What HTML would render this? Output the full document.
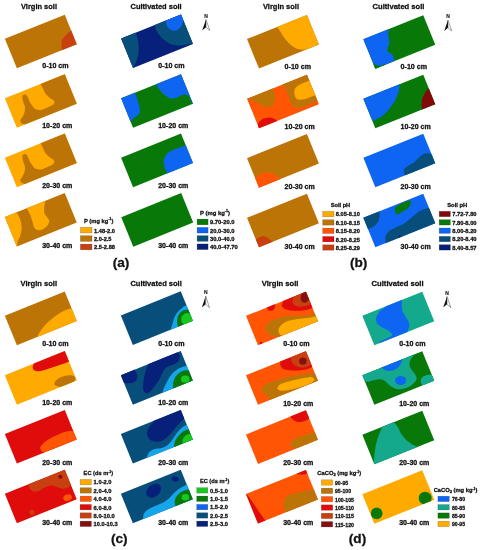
<!DOCTYPE html>
<html lang="en"><head><meta charset="utf-8"><title>Soil maps</title>
<style>html,body{margin:0;padding:0;background:#fff}svg{display:block}</style></head>
<body>
<svg width="481" height="550" viewBox="0 0 481 550" font-family="'Liberation Sans', sans-serif" font-weight="700" fill="#111">
<rect width="481" height="550" fill="#fff"/>
<defs>
<clipPath id="c0"><polygon points="64.76,14.71 76.76,44.21 16.86,68.31 4.86,38.81"/></clipPath>
<clipPath id="c1"><polygon points="64.76,74.22 76.76,103.72 16.86,127.82 4.86,98.32"/></clipPath>
<clipPath id="c2"><polygon points="64.76,133.62 76.76,163.12 16.86,187.22 4.86,157.72"/></clipPath>
<clipPath id="c3"><polygon points="64.76,192.92 76.76,222.42 16.86,246.52 4.86,217.02"/></clipPath>
<clipPath id="c4"><polygon points="180.99,14.44 192.99,43.94 133.09,68.04 121.09,38.54"/></clipPath>
<clipPath id="c5"><polygon points="180.99,74.22 192.99,103.72 133.09,127.82 121.09,98.32"/></clipPath>
<clipPath id="c6"><polygon points="180.99,133.55 192.99,163.05 133.09,187.15 121.09,157.65"/></clipPath>
<clipPath id="c7"><polygon points="181.17,193.11 193.17,222.61 133.27,246.71 121.27,217.21"/></clipPath>
<clipPath id="c8"><polygon points="306.91,14.97 318.91,44.47 259.01,68.57 247.01,39.07"/></clipPath>
<clipPath id="c9"><polygon points="306.91,74.67 318.91,104.17 259.01,128.27 247.01,98.77"/></clipPath>
<clipPath id="c10"><polygon points="306.91,134.03 318.91,163.53 259.01,187.63 247.01,158.13"/></clipPath>
<clipPath id="c11"><polygon points="306.91,193.69 318.91,223.19 259.01,247.29 247.01,217.79"/></clipPath>
<clipPath id="c12"><polygon points="423.25,15.15 435.25,44.65 375.35,68.75 363.35,39.25"/></clipPath>
<clipPath id="c13"><polygon points="423.25,74.67 435.25,104.17 375.35,128.27 363.35,98.77"/></clipPath>
<clipPath id="c14"><polygon points="423.25,133.69 435.25,163.19 375.35,187.29 363.35,157.79"/></clipPath>
<clipPath id="c15"><polygon points="423.25,193.69 435.25,223.19 375.35,247.29 363.35,217.79"/></clipPath>
<clipPath id="c16"><polygon points="64.76,291.56 76.76,321.06 16.86,345.16 4.86,315.66"/></clipPath>
<clipPath id="c17"><polygon points="64.76,351.11 76.76,380.61 16.86,404.71 4.86,375.21"/></clipPath>
<clipPath id="c18"><polygon points="64.76,409.92 76.76,439.42 16.86,463.52 4.86,434.02"/></clipPath>
<clipPath id="c19"><polygon points="64.76,469.69 76.76,499.19 16.86,523.29 4.86,493.79"/></clipPath>
<clipPath id="c20"><polygon points="180.76,291.33 192.76,320.83 132.86,344.93 120.86,315.43"/></clipPath>
<clipPath id="c21"><polygon points="180.76,351.11 192.76,380.61 132.86,404.71 120.86,375.21"/></clipPath>
<clipPath id="c22"><polygon points="180.76,409.92 192.76,439.42 132.86,463.52 120.86,434.02"/></clipPath>
<clipPath id="c23"><polygon points="180.76,469.69 192.76,499.19 132.86,523.29 120.86,493.79"/></clipPath>
<clipPath id="c24"><polygon points="305.91,291.74 317.91,321.24 258.01,345.34 246.01,315.84"/></clipPath>
<clipPath id="c25"><polygon points="305.91,351.22 317.91,380.72 258.01,404.82 246.01,375.32"/></clipPath>
<clipPath id="c26"><polygon points="305.91,410.33 317.91,439.83 258.01,463.93 246.01,434.43"/></clipPath>
<clipPath id="c27"><polygon points="305.91,469.96 317.91,499.46 258.01,523.56 246.01,494.06"/></clipPath>
<clipPath id="c28"><polygon points="422.25,291.74 434.25,321.24 374.35,345.34 362.35,315.84"/></clipPath>
<clipPath id="c29"><polygon points="422.25,351.22 434.25,380.72 374.35,404.82 362.35,375.32"/></clipPath>
<clipPath id="c30"><polygon points="422.25,410.67 434.25,440.17 374.35,464.27 362.35,434.77"/></clipPath>
<clipPath id="c31"><polygon points="422.25,470.22 434.25,499.72 374.35,523.82 362.35,494.32"/></clipPath>
</defs>
<polygon points="64.76,14.71 76.76,44.21 16.86,68.31 4.86,38.81" fill="#BD7406"/>
<g clip-path="url(#c0)">
<path d="M72.66 28.22C72.36 28.59 71.91 29.39 70.86 30.47C69.81 31.54 67.72 33.28 66.37 34.66C65.02 36.03 63.58 37.23 62.78 38.7C61.98 40.17 61.73 41.62 61.58 43.49C61.43 45.36 61.83 48.85 61.88 49.93L79.84 52.92L82.84 27.47Z" fill="#C8400F"/>
</g>
<polygon points="64.76,74.22 76.76,103.72 16.86,127.82 4.86,98.32" fill="#FFAA00"/>
<g clip-path="url(#c1)">
<path d="M40.33 82.23C40.43 82.61 40.45 83.36 40.93 84.48C41.4 85.6 42.42 87.47 43.17 88.97C43.92 90.47 44.29 91.96 45.42 93.46C46.54 94.96 48.46 96.7 49.91 97.95C51.35 99.2 53.6 99.82 54.1 100.94C54.6 102.07 54.1 103.56 52.9 104.69C51.7 105.81 48.91 106.81 46.91 107.68C44.92 108.55 42.8 109.68 40.93 109.93C39.05 110.17 37.06 109.8 35.69 109.18C34.31 108.55 33.69 107.43 32.69 106.18C31.69 104.94 30.57 103.31 29.7 101.69C28.83 100.07 28.28 97.7 27.45 96.45C26.63 95.21 25.61 94.21 24.76 94.21C23.91 94.21 22.64 95.21 22.36 96.45C22.09 97.7 22.69 99.95 23.11 101.69C23.54 103.44 24.66 105.26 24.91 106.93C25.16 108.6 24.96 110.15 24.61 111.72C24.26 113.29 23.46 115.09 22.81 116.36C22.16 117.63 21.14 118.53 20.72 119.36C20.29 120.18 20.14 120.65 20.27 121.3C20.39 121.95 20.84 122.77 21.47 123.25C22.09 123.72 23.01 123.87 24.01 124.15C25.01 124.42 26.88 124.77 27.45 124.89L79.84 130.88L82.84 71.01L40.33 71.01Z" fill="#BD7406"/>
</g>
<polygon points="64.76,133.62 76.76,163.12 16.86,187.22 4.86,157.72" fill="#FFAA00"/>
<g clip-path="url(#c2)">
<path d="M40.33 141.78C40.43 142.16 40.45 142.91 40.93 144.03C41.4 145.15 42.42 147.02 43.17 148.52C43.92 150.02 44.29 151.51 45.42 153.01C46.54 154.51 48.46 156.25 49.91 157.5C51.35 158.75 53.6 159.37 54.1 160.49C54.6 161.62 54.1 163.11 52.9 164.24C51.7 165.36 48.91 166.36 46.91 167.23C44.92 168.1 42.8 169.23 40.93 169.48C39.05 169.73 37.06 169.35 35.69 168.73C34.31 168.1 33.69 166.98 32.69 165.73C31.69 164.49 30.57 162.86 29.7 161.24C28.83 159.62 28.28 157.25 27.45 156C26.63 154.76 25.61 153.76 24.76 153.76C23.91 153.76 22.64 154.76 22.36 156C22.09 157.25 22.69 159.5 23.11 161.24C23.54 162.99 24.66 164.81 24.91 166.48C25.16 168.15 24.96 169.7 24.61 171.27C24.26 172.84 23.46 174.64 22.81 175.91C22.16 177.19 21.14 178.08 20.72 178.91C20.29 179.73 20.14 180.2 20.27 180.85C20.39 181.5 20.84 182.32 21.47 182.8C22.09 183.27 23.01 183.42 24.01 183.7C25.01 183.97 26.88 184.32 27.45 184.44L79.84 190.88L82.84 131.01L40.33 131.01Z" fill="#BD7406"/>
</g>
<polygon points="64.76,192.92 76.76,222.42 16.86,246.52 4.86,217.02" fill="#BD7406"/>
<g clip-path="url(#c3)">
<path d="M15.48 209.47C15.68 209.96 16.05 211.21 16.68 212.46C17.3 213.71 18.47 215.2 19.22 216.95C19.97 218.7 20.79 220.82 21.17 222.94C21.54 225.06 21.67 227.43 21.47 229.67C21.27 231.92 20.59 234.49 19.97 236.41C19.35 238.33 18.22 239.45 17.72 241.2C17.22 242.95 17.1 245.94 16.98 246.89L0.51 246.89L0.51 209.47Z" fill="#FFAA00"/>
<path d="M25.96 205.72C26.21 206.35 26.7 207.84 27.45 209.47C28.2 211.09 29.57 213.33 30.45 215.45C31.32 217.57 32.07 220.19 32.69 222.19C33.32 224.19 33.32 226.11 34.19 227.43C35.06 228.75 36.43 229.87 37.93 230.12C39.43 230.37 41.55 229.75 43.17 228.93C44.79 228.1 46.66 226.56 47.66 225.18C48.66 223.81 49.28 222.06 49.16 220.69C49.03 219.32 47.71 218.2 46.91 216.95C46.11 215.7 44.82 214.7 44.37 213.21C43.92 211.71 44.09 209.84 44.22 207.97C44.34 206.1 44.87 203.73 45.12 201.98C45.37 200.23 45.62 198.24 45.72 197.49L25.96 197.49Z" fill="#FFAA00"/>
</g>
<polygon points="180.99,14.44 192.99,43.94 133.09,68.04 121.09,38.54" fill="#07207A"/>
<g clip-path="url(#c4)">
<path d="M135.07 30.47C135.22 30.91 135.52 31.66 135.97 33.16C136.42 34.66 137.32 37.15 137.77 39.45C138.21 41.74 138.59 44.44 138.66 46.93C138.74 49.43 138.54 52.17 138.21 54.42C137.89 56.66 137.29 58.66 136.72 60.4C136.14 62.15 135.27 63.4 134.77 64.89C134.27 66.39 133.9 68.64 133.72 69.38L116.51 69.38L116.51 30.47Z" fill="#084E7A"/>
<path d="M154.83 22.98C154.88 23.43 154.93 24.55 155.13 25.68C155.33 26.8 155.35 28.17 156.03 29.72C156.7 31.26 157.77 33.21 159.17 34.96C160.57 36.7 162.54 38.7 164.41 40.2C166.28 41.69 168.15 43.06 170.4 43.94C172.64 44.81 175.39 45.31 177.88 45.43C180.38 45.56 183 45.01 185.37 44.69C187.74 44.36 190.11 43.86 192.1 43.49C194.1 43.11 196.47 42.62 197.34 42.44L197.34 11.01L154.83 11.01Z" fill="#084E7A"/>
<path d="M165.91 19.99C166.03 21.86 166.03 23.73 166.65 25.23C167.28 26.72 168.4 28.05 169.65 28.97C170.9 29.89 172.64 30.77 174.14 30.77C175.64 30.77 177.38 29.89 178.63 28.97C179.88 28.05 180.88 26.6 181.62 25.23C182.37 23.85 182.75 22.61 183.12 20.74C183.49 18.86 185.49 15.62 183.87 14C182.25 12.38 176.38 11.01 173.39 11.01C170.4 11.01 167.15 12.5 165.91 14C164.66 15.5 165.78 18.12 165.91 19.99Z" fill="#0E65F2"/>
</g>
<polygon points="180.99,74.22 192.99,103.72 133.09,127.82 121.09,98.32" fill="#087808"/>
<g clip-path="url(#c5)">
<path d="M134.17 90.47C134.35 90.91 134.72 91.79 135.22 93.16C135.72 94.53 136.54 96.78 137.17 98.7C137.79 100.62 138.49 102.69 138.96 104.69C139.44 106.68 140.06 109.05 140.01 110.67C139.96 112.3 139.46 113.37 138.66 114.42C137.86 115.46 136.29 116.09 135.22 116.96C134.15 117.83 133.22 118.58 132.23 119.65C131.23 120.73 129.73 122.77 129.23 123.4L116.51 123.4L116.51 90.47Z" fill="#0E65F2"/>
<path d="M154.68 82.23C154.93 82.66 155.43 83.65 156.18 84.78C156.93 85.9 157.92 87.4 159.17 88.97C160.42 90.54 162.04 92.76 163.66 94.21C165.28 95.65 167.28 96.93 168.9 97.65C170.52 98.37 171.77 98.7 173.39 98.55C175.01 98.4 177.13 97.35 178.63 96.75C180.13 96.15 181.25 95.33 182.37 94.96C183.49 94.58 184.42 94.38 185.37 94.51C186.31 94.63 187.31 95.13 188.06 95.7C188.81 96.28 189.36 97.08 189.86 97.95C190.36 98.82 190.63 100.02 191.05 100.94C191.48 101.87 191.9 102.62 192.4 103.49C192.9 104.36 193.77 105.73 194.05 106.18L198.84 106.18L198.84 88.97L183.87 69.51L154.68 69.51Z" fill="#0E65F2"/>
</g>
<polygon points="180.99,133.55 192.99,163.05 133.09,187.15 121.09,157.65" fill="#087808"/>
<g clip-path="url(#c6)">
<path d="M188.36 144.18C187.86 144.35 186.61 144.73 185.37 145.23C184.12 145.73 182.87 146.42 180.88 147.17C178.88 147.92 175.64 148.67 173.39 149.72C171.15 150.77 168.95 151.96 167.4 153.46C165.86 154.96 164.73 157.08 164.11 158.7C163.49 160.32 163.49 161.57 163.66 163.19C163.84 164.81 164.66 166.86 165.16 168.43C165.66 170 166.23 171.25 166.65 172.62C167.08 173.99 167.53 175.99 167.7 176.66L198.84 176.66L198.84 142.98Z" fill="#0E65F2"/>
</g>
<polygon points="181.17,193.11 193.17,222.61 133.27,246.71 121.27,217.21" fill="#087808"/>
<polygon points="306.91,14.97 318.91,44.47 259.01,68.57 247.01,39.07" fill="#BD7406"/>
<g clip-path="url(#c8)">
<path d="M276.19 25.23C276.44 25.65 276.94 26.65 277.69 27.77C278.43 28.89 279.56 30.27 280.68 31.96C281.8 33.66 282.93 35.95 284.42 37.95C285.92 39.95 287.79 42.24 289.66 43.94C291.53 45.63 293.53 47.18 295.65 48.13C297.77 49.08 300.01 49.58 302.38 49.63C304.75 49.68 307.5 49.18 309.87 48.43C312.24 47.68 314.61 46.26 316.6 45.14C318.6 44.01 320.97 42.27 321.84 41.69L324.84 11.01L276.19 11.01Z" fill="#FFAA00"/>
</g>
<polygon points="306.91,74.67 318.91,104.17 259.01,128.27 247.01,98.77" fill="#FF5505"/>
<g clip-path="url(#c9)">
<path d="M272.75 85.98C272.85 86.47 273.02 87.6 273.35 88.97C273.67 90.34 274.39 92.46 274.69 94.21C274.99 95.95 275.32 97.83 275.14 99.45C274.97 101.07 274.59 102.74 273.64 103.94C272.7 105.14 271.02 106.18 269.45 106.63C267.88 107.08 265.96 107.08 264.21 106.63C262.47 106.18 260.6 104.84 258.98 103.94C257.35 103.04 255.86 101.94 254.48 101.24C253.11 100.54 252.24 100.17 250.74 99.75C249.25 99.32 246.38 98.87 245.5 98.7L245.5 82.98Z" fill="#BD7406"/>
<path d="M281.73 82.23C281.93 82.73 282.35 84.1 282.93 85.23C283.5 86.35 284.42 87.6 285.17 88.97C285.92 90.34 286.67 91.71 287.42 93.46C288.16 95.21 288.91 97.58 289.66 99.45C290.41 101.32 290.78 103.31 291.91 104.69C293.03 106.06 294.65 107.26 296.4 107.68C298.14 108.1 300.39 107.7 302.38 107.23C304.38 106.76 306.5 105.61 308.37 104.84C310.24 104.06 311.62 103.24 313.61 102.59C315.61 101.94 319.22 101.22 320.35 100.94L324.84 71.01L281.73 71.01Z" fill="#BD7406"/>
<path d="M294.3 91.96C294.23 90.39 294.6 89.27 295.2 88.22C295.8 87.17 296.7 86.5 297.89 85.68C299.09 84.85 300.76 84.03 302.38 83.28C304.01 82.53 305.88 81.73 307.62 81.19C309.37 80.64 310.99 79.69 312.86 79.99C314.73 80.29 317.6 80.99 318.85 82.98C320.1 84.98 320.97 89.92 320.35 91.96C319.72 94.01 316.73 94.43 315.11 95.26C313.49 96.08 312.24 96.28 310.62 96.9C309 97.53 307.25 98.52 305.38 99C303.51 99.47 301.01 99.97 299.39 99.75C297.77 99.52 296.5 98.95 295.65 97.65C294.8 96.35 294.38 93.53 294.3 91.96Z" fill="#FFAA00"/>
<path d="M255.98 127.89C256.28 127.34 257.15 125.72 257.78 124.59C258.4 123.47 258.78 122.15 259.72 121.15C260.67 120.15 261.97 119.23 263.47 118.61C264.96 117.98 267.08 117.48 268.7 117.41C270.33 117.33 271.95 117.71 273.2 118.16C274.44 118.61 275.44 119.23 276.19 120.1C276.94 120.98 277.44 122.85 277.69 123.4L277.69 133.88L252.99 133.88Z" fill="#E00B0B"/>
</g>
<polygon points="306.91,134.03 318.91,163.53 259.01,187.63 247.01,158.13" fill="#BD7406"/>
<g clip-path="url(#c10)">
<path d="M253.74 180.4C254.04 179.98 254.78 178.73 255.53 177.86C256.28 176.99 257.03 175.99 258.23 175.16C259.42 174.34 261.1 173.42 262.72 172.92C264.34 172.42 266.21 172.05 267.96 172.17C269.7 172.3 271.7 172.99 273.2 173.67C274.69 174.34 275.86 175.34 276.94 176.21C278.01 177.09 278.88 177.96 279.63 178.91C280.38 179.85 281.13 181.4 281.43 181.9L281.43 193.88L251.49 193.88Z" fill="#FF5505"/>
</g>
<polygon points="306.91,193.69 318.91,223.19 259.01,247.29 247.01,217.79" fill="#BD7406"/>
<g clip-path="url(#c11)">
<path d="M253.74 240.4C254.16 240.15 255.16 239.51 256.28 238.91C257.4 238.31 259.2 237.28 260.47 236.81C261.74 236.34 262.79 235.91 263.91 236.06C265.04 236.21 266.16 237.11 267.21 237.71C268.26 238.31 269.28 239.01 270.2 239.65C271.12 240.3 271.87 240.85 272.75 241.6C273.62 242.35 274.99 243.72 275.44 244.15L275.44 253.88L251.49 253.88Z" fill="#C8400F"/>
</g>
<polygon points="423.25,15.15 435.25,44.65 375.35,68.75 363.35,39.25" fill="#087808"/>
<g clip-path="url(#c12)">
<path d="M389.05 26.72C389 27.17 388.9 28.3 388.75 29.42C388.6 30.54 388.15 32.04 388.15 33.46C388.15 34.88 388.55 36.45 388.75 37.95C388.95 39.45 389.4 41.07 389.35 42.44C389.3 43.81 388.82 44.94 388.45 46.18C388.07 47.43 386.98 48.85 387.1 49.93C387.22 51 388.35 51.87 389.2 52.62C390.04 53.37 391.44 53.62 392.19 54.42C392.94 55.21 393.31 56.36 393.69 57.41C394.06 58.46 394.26 59.46 394.43 60.7C394.61 61.95 394.68 64.2 394.73 64.89L394.73 73.88L358.51 73.88L358.51 26.72Z" fill="#0E65F2"/>
<path d="M370.48 61.6C370.98 61.98 372.36 63.25 373.48 63.85C374.6 64.44 376.1 64.89 377.22 65.19C378.34 65.49 379.34 65.67 380.21 65.64C381.09 65.62 381.64 65.42 382.46 65.04C383.28 64.67 384.7 63.67 385.15 63.4L385.15 73.88L370.48 73.88Z" fill="#087808"/>
</g>
<polygon points="423.25,74.67 435.25,104.17 375.35,128.27 363.35,98.77" fill="#087808"/>
<g clip-path="url(#c13)">
<path d="M399.82 81.48C399.8 82.03 399.82 83.28 399.67 84.78C399.52 86.27 399.42 88.4 398.93 90.47C398.43 92.54 397.68 94.96 396.68 97.2C395.68 99.45 394.31 101.82 392.94 103.94C391.57 106.06 390.07 108.05 388.45 109.93C386.83 111.8 384.95 113.72 383.21 115.16C381.46 116.61 379.59 117.73 377.97 118.61C376.35 119.48 374.98 119.98 373.48 120.4C371.98 120.83 369.74 121.03 368.99 121.15L358.51 121.15L358.51 81.48Z" fill="#0E65F2"/>
<path d="M431.11 85.23C430.68 85.73 429.56 86.97 428.56 88.22C427.57 89.47 426.12 91.09 425.12 92.71C424.12 94.33 423.15 96.2 422.58 97.95C422 99.7 421.8 101.39 421.68 103.19C421.55 104.99 421.73 107.11 421.83 108.73C421.93 110.35 422.2 112.22 422.28 112.92L440.84 112.92L440.84 85.23Z" fill="#820A0A"/>
</g>
<polygon points="423.25,133.69 435.25,163.19 375.35,187.29 363.35,157.79" fill="#0E65F2"/>
<g clip-path="url(#c14)">
<path d="M434.85 155.7C434.23 155.43 432.36 154.48 431.11 154.06C429.86 153.63 428.74 153.14 427.37 153.16C425.99 153.19 424.37 153.41 422.88 154.21C421.38 155.01 419.88 156.58 418.38 157.95C416.89 159.32 415.52 161.19 413.89 162.44C412.27 163.69 410.15 164.49 408.65 165.43C407.16 166.38 405.74 167.13 404.91 168.13C404.09 169.13 403.77 170.32 403.72 171.42C403.67 172.52 404.29 173.59 404.61 174.72C404.94 175.84 405.49 177.58 405.66 178.16L440.84 178.16L440.84 155.7Z" fill="#084E7A"/>
</g>
<polygon points="423.25,193.69 435.25,223.19 375.35,247.29 363.35,217.79" fill="#0E65F2"/>
<g clip-path="url(#c15)">
<path d="M379.17 208.22C379.22 208.79 379.37 210.29 379.47 211.66C379.57 213.04 380.01 214.78 379.77 216.45C379.52 218.12 378.77 220.2 377.97 221.69C377.17 223.19 376.1 224.44 374.98 225.43C373.85 226.43 372.36 227.11 371.23 227.68C370.11 228.25 369.36 228.5 368.24 228.88C367.12 229.25 365.12 229.75 364.5 229.93L358.51 229.93L358.51 208.22Z" fill="#084E7A"/>
<path d="M395.33 207.77C395.83 206.77 396.95 206.02 398.18 205.23C399.4 204.43 401.17 203.68 402.67 202.98C404.16 202.28 405.94 201.43 407.16 201.04C408.38 200.64 409.38 200.31 410 200.59C410.63 200.86 410.95 201.78 410.9 202.68C410.85 203.58 410.45 204.88 409.7 205.98C408.95 207.07 407.71 208.27 406.41 209.27C405.11 210.27 403.27 211.19 401.92 211.96C400.57 212.74 399.27 213.58 398.33 213.91C397.38 214.23 396.75 214.36 396.23 213.91C395.71 213.46 395.33 212.24 395.18 211.21C395.03 210.19 394.83 208.77 395.33 207.77Z" fill="#087808"/>
<path d="M433.35 207.77C432.6 207.85 430.36 208.02 428.86 208.22C427.37 208.42 426.12 208.35 424.37 208.97C422.63 209.59 420.63 210.47 418.38 211.96C416.14 213.46 413.4 215.95 410.9 217.95C408.41 219.95 406.04 222.32 403.42 223.94C400.8 225.56 397.68 226.43 395.18 227.68C392.69 228.93 390.07 229.93 388.45 231.42C386.83 232.92 385.95 234.91 385.45 236.66C384.95 238.41 385.33 240.4 385.45 241.9C385.58 243.4 386.08 245.02 386.2 245.64L440.84 245.64L440.84 207.77Z" fill="#084E7A"/>
<path d="M399.67 235.01C400.12 234.96 401.25 236.71 401.02 237.11C400.8 237.51 398.55 237.76 398.33 237.41C398.1 237.06 399.22 235.06 399.67 235.01Z" fill="#07207A"/>
</g>
<polygon points="64.76,291.56 76.76,321.06 16.86,345.16 4.86,315.66" fill="#BD7406"/>
<g clip-path="url(#c16)">
<path d="M76.85 307.17C75.98 307.34 73.36 307.79 71.61 308.21C69.86 308.64 68.37 308.89 66.37 309.71C64.38 310.53 61.88 311.78 59.64 313.15C57.39 314.53 55.02 316.27 52.9 317.94C50.78 319.62 48.78 321.31 46.91 323.18C45.04 325.05 43.12 327.25 41.67 329.17C40.23 331.09 39.1 333.09 38.23 334.71C37.36 336.33 36.73 338.2 36.43 338.9L82.84 338.9L82.84 307.17Z" fill="#FFAA00"/>
</g>
<polygon points="64.76,351.11 76.76,380.61 16.86,404.71 4.86,375.21" fill="#FFAA00"/>
<g clip-path="url(#c17)">
<path d="M34.34 361.48C34.19 361.98 33.72 363.47 33.44 364.47C33.17 365.47 32.57 366.52 32.69 367.47C32.82 368.41 33.19 369.54 34.19 370.16C35.19 370.78 36.81 371.28 38.68 371.21C40.55 371.13 43.05 370.38 45.42 369.71C47.79 369.04 50.41 367.99 52.9 367.17C55.4 366.34 58.14 365.52 60.38 364.77C62.63 364.02 64.38 363.42 66.37 362.68C68.37 361.93 71.36 360.68 72.36 360.28L72.36 346.51L34.34 346.51Z" fill="#E00B0B"/>
<ellipse cx="64.88" cy="380.94" rx="11.08" ry="4.94" fill="#BD7406" transform="rotate(-17 64.88 380.94)"/>
</g>
<polygon points="64.76,409.92 76.76,439.42 16.86,463.52 4.86,434.02" fill="#E00B0B"/>
<g clip-path="url(#c18)">
<path d="M78.35 430.96C77.47 430.96 74.85 430.91 73.11 430.96C71.36 431.01 69.86 430.88 67.87 431.26C65.87 431.63 63.38 432.38 61.13 433.2C58.89 434.02 56.64 435.07 54.4 436.2C52.15 437.32 49.66 438.62 47.66 439.94C45.67 441.26 43.67 442.76 42.42 444.13C41.17 445.5 40.28 447 40.18 448.17C40.08 449.34 41.07 450.44 41.82 451.16C42.57 451.89 43.57 452.14 44.67 452.51C45.77 452.89 47.79 453.26 48.41 453.41L82.84 457.9L82.84 430.96Z" fill="#FF5505"/>
</g>
<polygon points="64.76,469.69 76.76,499.19 16.86,523.29 4.86,493.79" fill="#E00B0B"/>
<g clip-path="url(#c19)">
<path d="M28.65 481.98C28.7 482.47 28.78 483.85 28.95 484.97C29.12 486.09 28.95 487.64 29.7 488.71C30.45 489.78 31.94 491.03 33.44 491.41C34.94 491.78 37.06 491.48 38.68 490.96C40.3 490.43 41.67 489.06 43.17 488.26C44.67 487.46 46.04 486.59 47.66 486.17C49.28 485.74 51.03 485.47 52.9 485.72C54.77 485.97 57.02 487.16 58.89 487.66C60.76 488.16 62.51 488.79 64.13 488.71C65.75 488.64 67.49 487.84 68.62 487.21C69.74 486.59 70.11 485.72 70.86 484.97C71.61 484.22 72.73 483.1 73.11 482.72L73.11 465.51L28.65 465.51Z" fill="#C8400F"/>
<ellipse cx="60.38" cy="476.74" rx="2.1" ry="2.1" fill="#85100F" transform="rotate(0 60.38 476.74)"/>
<ellipse cx="67.57" cy="497.69" rx="4.34" ry="3.29" fill="#FF5505" transform="rotate(-15 67.57 497.69)"/>
<ellipse cx="31.94" cy="512.36" rx="2.54" ry="2.54" fill="#C8400F" transform="rotate(0 31.94 512.36)"/>
</g>
<polygon points="180.76,291.33 192.76,320.83 132.86,344.93 120.86,315.43" fill="#084E7A"/>
<g clip-path="url(#c20)">
<path d="M189.86 302.98C189.23 303.35 187.49 304.35 186.11 305.22C184.74 306.09 183.12 306.97 181.62 308.21C180.13 309.46 178.38 311.08 177.13 312.7C175.89 314.33 174.89 316.2 174.14 317.94C173.39 319.69 173.14 321.56 172.64 323.18C172.14 324.8 171.64 326.18 171.15 327.67C170.65 329.17 169.9 331.42 169.65 332.16L198.84 332.16L198.84 302.98Z" fill="#14A5EB"/>
<path d="M192.1 309.71C191.43 309.71 189.43 309.64 188.06 309.71C186.69 309.79 185.19 309.66 183.87 310.16C182.55 310.66 181.17 311.53 180.13 312.7C179.08 313.88 178.08 315.57 177.58 317.2C177.08 318.82 177.08 320.86 177.13 322.43C177.18 324.01 177.56 325.25 177.88 326.63C178.21 328 178.88 329.99 179.08 330.67L198.84 330.67L198.84 309.71Z" fill="#087808"/>
<path d="M193.6 314.2C192.98 314.08 191.1 313.63 189.86 313.45C188.61 313.28 187.31 312.85 186.11 313.15C184.92 313.45 183.49 314.25 182.67 315.25C181.85 316.25 181.22 317.87 181.17 319.14C181.12 320.41 181.72 322.04 182.37 322.88C183.02 323.73 184.07 323.93 185.07 324.23C186.06 324.53 187.81 324.6 188.36 324.68L198.84 324.68L198.84 314.2Z" fill="#19C81E"/>
</g>
<polygon points="180.76,351.11 192.76,380.61 132.86,404.71 120.86,375.21" fill="#084E7A"/>
<g clip-path="url(#c21)">
<path d="M134.17 367.47C134.35 367.96 134.72 369.21 135.22 370.46C135.72 371.71 136.92 373.45 137.17 374.95C137.42 376.45 137.29 378.24 136.72 379.44C136.14 380.64 134.97 381.51 133.72 382.14C132.48 382.76 130.6 383.01 129.23 383.18C127.86 383.36 127.11 383.26 125.49 383.18C123.87 383.11 120.5 382.81 119.5 382.73L116.51 367.47Z" fill="#07207A"/>
<path d="M147.94 365.22C147.07 367.47 146.32 368.46 145.7 370.46C145.07 372.46 144.63 374.95 144.2 377.2C143.78 379.44 143.28 381.76 143.15 383.93C143.03 386.1 142.95 388.67 143.45 390.22C143.95 391.77 145.02 393.01 146.15 393.21C147.27 393.41 148.89 392.46 150.19 391.42C151.49 390.37 152.56 388.67 153.93 386.93C155.3 385.18 157.17 382.93 158.42 380.94C159.67 378.94 160.42 376.9 161.42 374.95C162.41 373 163.16 370.73 164.41 369.26C165.66 367.79 167.28 366.97 168.9 366.12C170.52 365.27 172.59 364.95 174.14 364.17C175.69 363.4 177.26 362.55 178.18 361.48C179.1 360.41 179.6 359.11 179.68 357.74C179.75 356.36 180.18 354.62 178.63 353.25C177.08 351.87 175.01 348.88 170.4 349.5C165.78 350.13 154.68 354.37 150.94 356.99C147.2 359.61 148.82 362.98 147.94 365.22Z" fill="#07207A"/>
<path d="M191.35 364.47C190.56 364.67 188.31 365.17 186.56 365.67C184.82 366.17 182.7 366.67 180.88 367.47C179.05 368.26 177.26 369.21 175.64 370.46C174.01 371.71 172.47 373.33 171.15 374.95C169.82 376.57 168.7 378.44 167.7 380.19C166.7 381.94 165.91 383.81 165.16 385.43C164.41 387.05 163.71 388.42 163.21 389.92C162.71 391.42 162.34 393.66 162.16 394.41L198.84 394.41L198.84 364.47Z" fill="#14A5EB"/>
<path d="M192.85 370.46C192.1 370.41 189.86 370.16 188.36 370.16C186.86 370.16 185.37 370.04 183.87 370.46C182.37 370.88 180.75 371.71 179.38 372.7C178.01 373.7 176.63 374.95 175.64 376.45C174.64 377.94 173.81 379.94 173.39 381.69C172.97 383.43 173.04 385.43 173.09 386.93C173.14 388.42 173.59 390.04 173.69 390.67L198.84 390.67L198.84 370.46Z" fill="#087808"/>
<ellipse cx="185.22" cy="379.14" rx="4.34" ry="3.59" fill="#19C81E" transform="rotate(0 185.22 379.14)"/>
</g>
<polygon points="180.76,409.92 192.76,439.42 132.86,463.52 120.86,434.02" fill="#084E7A"/>
<g clip-path="url(#c22)">
<path d="M154.68 418.98C154.43 419.48 154.06 420.73 153.18 421.98C152.31 423.22 150.44 424.84 149.44 426.47C148.44 428.09 147.44 429.96 147.2 431.7C146.95 433.45 147.2 435.45 147.94 436.94C148.69 438.44 150.06 439.89 151.69 440.69C153.31 441.48 155.68 441.86 157.67 441.73C159.67 441.61 161.79 440.99 163.66 439.94C165.53 438.89 167.28 437.07 168.9 435.45C170.52 433.83 171.89 431.95 173.39 430.21C174.89 428.46 176.38 426.59 177.88 424.97C179.38 423.35 181 421.98 182.37 420.48C183.74 418.98 185.49 416.74 186.11 415.99L186.11 405.51L154.68 405.51Z" fill="#07207A"/>
<path d="M190.6 423.47C189.93 423.72 187.94 424.35 186.56 424.97C185.19 425.59 183.82 426.09 182.37 427.21C180.93 428.34 179.25 430.08 177.88 431.7C176.51 433.33 175.39 435.2 174.14 436.94C172.89 438.69 171.77 440.64 170.4 442.18C169.02 443.73 167.53 445.23 165.91 446.22C164.28 447.22 162.54 447.72 160.67 448.17C158.8 448.62 156.43 448.42 154.68 448.92C152.93 449.42 151.36 450.17 150.19 451.16C149.02 452.16 148.22 453.83 147.64 454.91C147.07 455.98 146.95 456.48 146.75 457.6C146.55 458.72 146.5 460.97 146.45 461.64L198.84 461.64L198.84 423.47Z" fill="#14A5EB"/>
<path d="M192.85 428.26C192.1 428.41 189.86 428.71 188.36 429.16C186.86 429.61 185.37 430.03 183.87 430.96C182.37 431.88 180.75 433.2 179.38 434.7C178.01 436.2 176.51 438.19 175.64 439.94C174.76 441.68 174.26 443.68 174.14 445.18C174.01 446.67 174.76 448.3 174.89 448.92L198.84 448.92L198.84 428.26Z" fill="#087808"/>
<path d="M194.35 433.65C193.65 433.7 191.4 433.78 190.16 433.95C188.91 434.12 187.96 434.07 186.86 434.7C185.77 435.32 184.32 436.57 183.57 437.69C182.82 438.81 182.45 440.19 182.37 441.43C182.3 442.68 183 444.55 183.12 445.18L198.84 445.18L198.84 433.65Z" fill="#19C81E"/>
</g>
<polygon points="180.76,469.69 192.76,499.19 132.86,523.29 120.86,493.79" fill="#084E7A"/>
<g clip-path="url(#c23)">
<ellipse cx="153.63" cy="490.66" rx="8.23" ry="5.99" fill="#07207A" transform="rotate(-40 153.63 490.66)"/>
<ellipse cx="175.19" cy="478.98" rx="3.74" ry="2.54" fill="#07207A" transform="rotate(10 175.19 478.98)"/>
<path d="M191.35 482.72C190.56 483.05 188.19 483.92 186.56 484.67C184.94 485.42 183.2 486.29 181.62 487.21C180.05 488.14 178.56 489.09 177.13 490.21C175.71 491.33 174.46 492.58 173.09 493.95C171.72 495.32 170.47 497.07 168.9 498.44C167.33 499.81 165.66 501.06 163.66 502.18C161.67 503.31 159.17 504.18 156.93 505.18C154.68 506.17 152.06 507.17 150.19 508.17C148.32 509.17 146.82 510.04 145.7 511.16C144.58 512.29 143.88 513.66 143.45 514.91C143.03 516.15 143.15 517.4 143.15 518.65C143.15 519.9 143.4 521.77 143.45 522.39L198.84 522.39L198.84 482.72Z" fill="#14A5EB"/>
<path d="M192.85 489.16C192.1 489.21 189.86 489.21 188.36 489.46C186.86 489.71 185.37 490.03 183.87 490.66C182.37 491.28 180.68 492.15 179.38 493.2C178.08 494.25 176.88 495.57 176.09 496.94C175.29 498.32 174.74 500.06 174.59 501.43C174.44 502.81 174.89 503.93 175.19 505.18C175.49 506.42 176.19 508.3 176.38 508.92L198.84 508.92L198.84 489.16Z" fill="#087808"/>
<ellipse cx="185.37" cy="497.24" rx="3.74" ry="3.29" fill="#19C81E" transform="rotate(0 185.37 497.24)"/>
</g>
<polygon points="305.91,291.74 317.91,321.24 258.01,345.34 246.01,315.84" fill="#FF5505"/>
<g clip-path="url(#c24)">
<path d="M283.42 299.23C283.3 299.73 282.92 301.1 282.67 302.23C282.42 303.35 281.55 304.85 281.93 305.97C282.3 307.09 283.42 308.21 284.92 308.96C286.42 309.71 288.79 310.16 290.91 310.46C293.03 310.76 295.4 310.81 297.64 310.76C299.89 310.71 302.26 310.51 304.38 310.16C306.5 309.81 308.37 309.36 310.37 308.66C312.36 307.96 315.36 306.42 316.35 305.97L316.35 286.51L283.42 286.51Z" fill="#E00B0B"/>
<path d="M294.65 294.74C294.47 295.24 293.98 296.61 293.6 297.74C293.23 298.86 292.23 300.23 292.4 301.48C292.58 302.73 293.53 304.35 294.65 305.22C295.77 306.09 297.52 306.54 299.14 306.72C300.76 306.89 302.76 306.59 304.38 306.27C306 305.94 307.12 305.52 308.87 304.77C310.62 304.02 313.86 302.28 314.86 301.78L314.86 286.51L294.65 286.51Z" fill="#C8400F"/>
<path d="M300.64 298.48C300.64 300.03 301.38 301.08 302.13 301.78C302.88 302.48 304.13 302.85 305.13 302.68C306.12 302.5 307.25 301.68 308.12 300.73C308.99 299.78 310.49 298.61 310.37 296.99C310.24 295.37 308.74 291.75 307.37 291C306 290.25 303.26 291.25 302.13 292.5C301.01 293.74 300.64 296.94 300.64 298.48Z" fill="#85100F"/>
<path d="M266.21 305.22C266.33 305.64 266.58 306.94 266.96 307.77C267.33 308.59 267.7 309.66 268.45 310.16C269.2 310.66 270.5 310.96 271.45 310.76C272.4 310.56 273.52 309.89 274.14 308.96C274.77 308.04 274.99 306.34 275.19 305.22C275.39 304.1 275.31 302.73 275.34 302.23L266.21 302.23Z" fill="#E00B0B"/>
<path d="M320.1 311.66C319.22 311.91 316.73 312.6 314.86 313.15C312.99 313.7 311.11 314.53 308.87 314.95C306.62 315.37 304.13 315.57 301.38 315.7C298.64 315.82 295.4 315.52 292.4 315.7C289.41 315.87 286.42 316.12 283.42 316.75C280.43 317.37 277.06 318.37 274.44 319.44C271.82 320.51 269.2 321.81 267.7 323.18C266.21 324.56 265.58 326.18 265.46 327.67C265.33 329.17 266.08 330.92 266.96 332.16C267.83 333.41 269.2 334.41 270.7 335.16C272.2 335.91 274.07 336.33 275.94 336.65C277.81 336.98 280.93 337.03 281.93 337.1L323.84 338.9L323.84 311.66Z" fill="#BD7406"/>
<path d="M320.84 314.95C320.05 315.15 318.05 315.7 316.05 316.15C314.06 316.6 311.56 317.22 308.87 317.64C306.17 318.07 302.88 318.27 299.89 318.69C296.89 319.12 293.65 319.44 290.91 320.19C288.16 320.94 285.37 321.94 283.42 323.18C281.48 324.43 280.03 326.18 279.23 327.67C278.43 329.17 278.31 330.92 278.63 332.16C278.96 333.41 280.13 334.41 281.18 335.16C282.22 335.91 284.3 336.41 284.92 336.65L323.84 338.9L323.84 314.95Z" fill="#FFAA00"/>
<path d="M260.67 341.89C261.22 341.74 262.72 342.39 262.77 342.79C262.81 343.19 261.52 344.14 260.97 344.29C260.42 344.44 259.52 344.09 259.47 343.69C259.42 343.29 260.12 342.04 260.67 341.89Z" fill="#E00B0B"/>
</g>
<polygon points="305.91,351.22 317.91,380.72 258.01,404.82 246.01,375.32" fill="#FF5505"/>
<g clip-path="url(#c25)">
<path d="M279.68 359.23C279.75 359.73 279.95 361.1 280.13 362.23C280.3 363.35 280.18 364.85 280.73 365.97C281.28 367.09 281.98 368.26 283.42 368.96C284.87 369.66 287.16 369.91 289.41 370.16C291.65 370.41 294.4 370.53 296.89 370.46C299.39 370.38 302.26 370.09 304.38 369.71C306.5 369.34 307.75 368.96 309.62 368.21C311.49 367.47 314.61 365.72 315.6 365.22L315.6 346.51L279.68 346.51Z" fill="#E00B0B"/>
<path d="M290.61 354.74C290.66 355.24 290.73 356.61 290.91 357.74C291.08 358.86 291.03 360.23 291.65 361.48C292.28 362.73 293.28 364.27 294.65 365.22C296.02 366.17 298.14 366.84 299.89 367.17C301.63 367.49 303.63 367.42 305.13 367.17C306.62 366.92 307.37 366.37 308.87 365.67C310.37 364.97 313.23 363.42 314.11 362.98L314.11 346.51L290.61 346.51Z" fill="#C8400F"/>
<ellipse cx="302.88" cy="361.18" rx="3.74" ry="3.59" fill="#85100F" transform="rotate(0 302.88 361.18)"/>
<path d="M320.1 374.2C319.27 374.08 316.78 373.63 315.16 373.45C313.53 373.28 312.41 373.03 310.37 373.15C308.32 373.28 305.63 373.78 302.88 374.2C300.14 374.63 297.02 375.07 293.9 375.7C290.78 376.32 287.41 377.07 284.17 377.94C280.93 378.82 277.43 379.89 274.44 380.94C271.45 381.99 268.33 383.11 266.21 384.23C264.09 385.35 262.22 386.35 261.72 387.67C261.22 389 262.34 390.79 263.21 392.16C264.09 393.54 265.83 394.78 266.96 395.91C268.08 397.03 269.08 397.78 269.95 398.9C270.82 400.02 271.82 402.02 272.2 402.64L323.84 402.64L323.84 374.2Z" fill="#BD7406"/>
<path d="M277.43 387.67C277.83 386.8 278.68 385.23 280.43 384.23C282.17 383.23 285.17 382.48 287.91 381.69C290.66 380.89 293.9 380.11 296.89 379.44C299.89 378.77 303.38 378.02 305.88 377.64C308.37 377.27 310.47 376.9 311.86 377.2C313.26 377.49 314.26 378.57 314.26 379.44C314.26 380.31 313.26 381.49 311.86 382.43C310.47 383.38 308.37 384.18 305.88 385.13C303.38 386.08 299.89 387.27 296.89 388.12C293.9 388.97 290.53 389.79 287.91 390.22C285.29 390.64 282.82 390.79 281.18 390.67C279.53 390.54 278.66 389.97 278.03 389.47C277.41 388.97 277.04 388.55 277.43 387.67Z" fill="#FFAA00"/>
</g>
<polygon points="305.91,410.33 317.91,439.83 258.01,463.93 246.01,434.43" fill="#FF5505"/>
<g clip-path="url(#c26)">
<path d="M289.11 414.79C289.41 415.19 290.23 416.36 290.91 417.19C291.58 418.01 292.15 418.98 293.15 419.73C294.15 420.48 295.4 421.35 296.89 421.68C298.39 422 300.51 421.93 302.13 421.68C303.75 421.43 305.5 420.68 306.62 420.18C307.75 419.68 308 419.38 308.87 418.68C309.74 417.98 311.36 416.44 311.86 415.99L311.86 405.51L289.11 405.51Z" fill="#E00B0B"/>
<path d="M320.1 431.26C319.17 431.46 316.43 432 314.56 432.45C312.69 432.9 311.06 433.33 308.87 433.95C306.67 434.57 303.75 435.4 301.38 436.2C299.01 436.99 296.35 437.74 294.65 438.74C292.95 439.74 291.78 440.99 291.21 442.18C290.63 443.38 290.81 444.93 291.21 445.93C291.6 446.92 292.7 447.72 293.6 448.17C294.5 448.62 295.55 448.54 296.59 448.62C297.64 448.69 299.34 448.62 299.89 448.62L323.84 454.91L323.84 431.26Z" fill="#BD7406"/>
</g>
<polygon points="305.91,469.96 317.91,499.46 258.01,523.56 246.01,494.06" fill="#FF5505"/>
<g clip-path="url(#c27)">
<path d="M296.15 473.74C296.4 473.84 296.77 474.19 297.64 474.34C298.52 474.49 300.14 474.67 301.38 474.64C302.63 474.62 304.13 474.37 305.13 474.19C306.12 474.02 306.62 473.84 307.37 473.59C308.12 473.34 309.24 472.84 309.62 472.69L309.62 465.51L296.15 465.51Z" fill="#E00B0B"/>
<path d="M245.25 492.45C245.5 492.75 246 493.33 246.75 494.25C247.5 495.17 248.49 496.3 249.74 497.99C250.99 499.69 252.74 502.23 254.23 504.43C255.73 506.62 257.35 509.17 258.72 511.16C260.1 513.16 261.39 514.91 262.47 516.4C263.54 517.9 264.41 519.02 265.16 520.15C265.91 521.27 266.66 522.64 266.96 523.14L266.96 529.88L241.51 529.88L241.51 492.45Z" fill="#E00B0B"/>
<path d="M319.35 488.71C318.4 488.79 315.65 488.91 313.66 489.16C311.66 489.41 309.67 489.71 307.37 490.21C305.08 490.71 302.38 491.53 299.89 492.15C297.39 492.78 294.65 493.15 292.4 493.95C290.16 494.75 287.86 495.7 286.42 496.94C284.97 498.19 284.17 499.81 283.72 501.43C283.27 503.06 283.47 505.05 283.72 506.67C283.97 508.3 284.64 509.79 285.22 511.16C285.79 512.54 286.84 514.28 287.16 514.91L323.84 514.91L323.84 488.71Z" fill="#BD7406"/>
</g>
<polygon points="422.25,291.74 434.25,321.24 374.35,345.34 362.35,315.84" fill="#14A88C"/>
<g clip-path="url(#c28)">
<path d="M388.2 303.72C387.57 304.35 385.95 306.09 384.45 307.47C382.96 308.84 380.59 310.21 379.21 311.96C377.84 313.7 376.59 316.07 376.22 317.94C375.85 319.81 376.1 321.69 376.97 323.18C377.84 324.68 379.84 325.85 381.46 326.93C383.08 328 385.2 328.67 386.7 329.62C388.2 330.57 389.52 331.72 390.44 332.61C391.36 333.51 392.49 334.21 392.24 335.01C391.99 335.81 390.24 336.65 388.94 337.4C387.65 338.15 386.07 338.75 384.45 339.5C382.83 340.25 380.09 341.49 379.21 341.89L379.96 350.88L411.4 350.88L407.65 330.22L409.6 326.18L408.4 320.94L405.41 316.45L402.42 311.21L401.67 305.97L402.12 300.73L402.42 295.49L388.2 295.49Z" fill="#0E65F2"/>
</g>
<polygon points="422.25,351.22 434.25,380.72 374.35,404.82 362.35,375.32" fill="#087808"/>
<g clip-path="url(#c29)">
<path d="M360.5 380.19C361.25 380.36 363.62 380.99 364.99 381.24C366.37 381.49 367.24 381.84 368.74 381.69C370.23 381.54 372.23 380.76 373.98 380.34C375.72 379.91 377.59 379.17 379.21 379.14C380.84 379.12 382.33 379.52 383.7 380.19C385.08 380.86 386.07 382.06 387.45 383.18C388.82 384.31 390.19 385.93 391.94 386.93C393.68 387.92 395.8 388.92 397.93 389.17C400.05 389.42 402.67 388.92 404.66 388.42C406.66 387.92 408.28 387.17 409.9 386.18C411.52 385.18 413.27 383.68 414.39 382.43C415.51 381.19 416.51 380.06 416.64 378.69C416.76 377.32 415.89 375.57 415.14 374.2C414.39 372.83 413.02 371.71 412.15 370.46C411.27 369.21 410.32 368.09 409.9 366.72C409.48 365.35 409.35 363.6 409.6 362.23C409.85 360.85 410.72 359.66 411.4 358.48C412.07 357.31 412.89 356.31 413.64 355.19C414.39 354.07 415.51 352.32 415.89 351.75L415.89 346.51L357.51 365.97Z" fill="#14A88C"/>
<path d="M379.96 365.97C380.34 366.34 381.33 367.52 382.21 368.21C383.08 368.91 383.83 369.74 385.2 370.16C386.57 370.58 388.69 370.91 390.44 370.76C392.19 370.61 394.18 370.06 395.68 369.26C397.18 368.46 398.42 367.14 399.42 365.97C400.42 364.8 401.19 363.35 401.67 362.23C402.14 361.1 402.17 359.73 402.27 359.23L402.27 351L379.96 351Z" fill="#0E65F2"/>
<ellipse cx="400.62" cy="380.49" rx="5.54" ry="4.49" fill="#0E65F2" transform="rotate(0 400.62 380.49)"/>
<path d="M436.1 373.45C435.27 373.58 432.78 373.9 431.16 374.2C429.53 374.5 427.86 374.75 426.37 375.25C424.87 375.75 423.12 376.25 422.17 377.2C421.23 378.14 420.73 379.69 420.68 380.94C420.63 382.19 421.23 383.81 421.88 384.68C422.52 385.55 423.57 385.8 424.57 386.18C425.57 386.55 427.31 386.8 427.86 386.93L439.84 386.93L439.84 373.45Z" fill="#14A88C"/>
</g>
<polygon points="422.25,410.67 434.25,440.17 374.35,464.27 362.35,434.77" fill="#087808"/>
<g clip-path="url(#c30)">
<path d="M383.7 424.22C383.46 424.72 382.96 425.59 382.21 427.21C381.46 428.84 380.14 431.58 379.21 433.95C378.29 436.32 377.34 438.94 376.67 441.43C376 443.93 375.57 446.42 375.17 448.92C374.77 451.41 374.47 454.28 374.27 456.4C374.07 458.52 374.02 459.9 373.98 461.64C373.93 463.39 373.98 466.01 373.98 466.88L421.88 466.88L421.88 447.42L417.38 446.67L412.15 444.43L406.16 439.94L401.22 433.95L397.93 427.21L394.18 422.27L391.94 418.98Z" fill="#14A88C"/>
</g>
<polygon points="422.25,470.22 434.25,499.72 374.35,523.82 362.35,494.32" fill="#FFAA00"/>
<g clip-path="url(#c31)">
<ellipse cx="376.67" cy="513.41" rx="5.84" ry="5.84" fill="#087808" transform="rotate(0 376.67 513.41)"/>
<ellipse cx="425.17" cy="498.14" rx="6.44" ry="6.44" fill="#087808" transform="rotate(0 425.17 498.14)"/>
</g>
<text x="21" y="8.8" font-size="7.7" textLength="36" lengthAdjust="spacingAndGlyphs" text-anchor="start" stroke="#111" stroke-width=".28" stroke-linejoin="round">Virgin soil</text>
<text x="130.6" y="8.8" font-size="7.7" textLength="51" lengthAdjust="spacingAndGlyphs" text-anchor="start" stroke="#111" stroke-width=".28" stroke-linejoin="round">Cultivated soil</text>
<text x="263" y="9.2" font-size="7.7" textLength="36" lengthAdjust="spacingAndGlyphs" text-anchor="start" stroke="#111" stroke-width=".28" stroke-linejoin="round">Virgin soil</text>
<text x="372.6" y="9.2" font-size="7.7" textLength="51.8" lengthAdjust="spacingAndGlyphs" text-anchor="start" stroke="#111" stroke-width=".28" stroke-linejoin="round">Cultivated soil</text>
<text x="20.6" y="285.6" font-size="7.7" textLength="36.4" lengthAdjust="spacingAndGlyphs" text-anchor="start" stroke="#111" stroke-width=".28" stroke-linejoin="round">Virgin soil</text>
<text x="130.4" y="285.6" font-size="7.7" textLength="51.4" lengthAdjust="spacingAndGlyphs" text-anchor="start" stroke="#111" stroke-width=".28" stroke-linejoin="round">Cultivated soil</text>
<text x="261.8" y="285.8" font-size="7.7" textLength="36.7" lengthAdjust="spacingAndGlyphs" text-anchor="start" stroke="#111" stroke-width=".28" stroke-linejoin="round">Virgin soil</text>
<text x="371.6" y="286" font-size="7.7" textLength="52" lengthAdjust="spacingAndGlyphs" text-anchor="start" stroke="#111" stroke-width=".28" stroke-linejoin="round">Cultivated soil</text>
<text x="42.2" y="68.3" font-size="6.9" textLength="26.4" lengthAdjust="spacingAndGlyphs" text-anchor="start" stroke="#111" stroke-width=".28" stroke-linejoin="round">0-10 cm</text>
<text x="42.2" y="128.3" font-size="6.9" textLength="30.2" lengthAdjust="spacingAndGlyphs" text-anchor="start" stroke="#111" stroke-width=".28" stroke-linejoin="round">10-20 cm</text>
<text x="42.2" y="188.3" font-size="6.9" textLength="30.2" lengthAdjust="spacingAndGlyphs" text-anchor="start" stroke="#111" stroke-width=".28" stroke-linejoin="round">20-30 cm</text>
<text x="42.2" y="248.3" font-size="6.9" textLength="30.2" lengthAdjust="spacingAndGlyphs" text-anchor="start" stroke="#111" stroke-width=".28" stroke-linejoin="round">30-40 cm</text>
<text x="158.2" y="68.3" font-size="6.9" textLength="26.4" lengthAdjust="spacingAndGlyphs" text-anchor="start" stroke="#111" stroke-width=".28" stroke-linejoin="round">0-10 cm</text>
<text x="158.2" y="128.3" font-size="6.9" textLength="30.2" lengthAdjust="spacingAndGlyphs" text-anchor="start" stroke="#111" stroke-width=".28" stroke-linejoin="round">10-20 cm</text>
<text x="158.2" y="188.3" font-size="6.9" textLength="30.2" lengthAdjust="spacingAndGlyphs" text-anchor="start" stroke="#111" stroke-width=".28" stroke-linejoin="round">20-30 cm</text>
<text x="158.2" y="248.3" font-size="6.9" textLength="30.2" lengthAdjust="spacingAndGlyphs" text-anchor="start" stroke="#111" stroke-width=".28" stroke-linejoin="round">30-40 cm</text>
<text x="284.6" y="68.9" font-size="6.9" textLength="26.4" lengthAdjust="spacingAndGlyphs" text-anchor="start" stroke="#111" stroke-width=".28" stroke-linejoin="round">0-10 cm</text>
<text x="284.6" y="128.7" font-size="6.9" textLength="30.2" lengthAdjust="spacingAndGlyphs" text-anchor="start" stroke="#111" stroke-width=".28" stroke-linejoin="round">10-20 cm</text>
<text x="284.6" y="188.7" font-size="6.9" textLength="30.2" lengthAdjust="spacingAndGlyphs" text-anchor="start" stroke="#111" stroke-width=".28" stroke-linejoin="round">20-30 cm</text>
<text x="284.6" y="248.7" font-size="6.9" textLength="30.2" lengthAdjust="spacingAndGlyphs" text-anchor="start" stroke="#111" stroke-width=".28" stroke-linejoin="round">30-40 cm</text>
<text x="400.6" y="69.3" font-size="6.9" textLength="26.4" lengthAdjust="spacingAndGlyphs" text-anchor="start" stroke="#111" stroke-width=".28" stroke-linejoin="round">0-10 cm</text>
<text x="400.6" y="128.9" font-size="6.9" textLength="30.2" lengthAdjust="spacingAndGlyphs" text-anchor="start" stroke="#111" stroke-width=".28" stroke-linejoin="round">10-20 cm</text>
<text x="400.6" y="188.7" font-size="6.9" textLength="30.2" lengthAdjust="spacingAndGlyphs" text-anchor="start" stroke="#111" stroke-width=".28" stroke-linejoin="round">20-30 cm</text>
<text x="400.6" y="248.7" font-size="6.9" textLength="30.2" lengthAdjust="spacingAndGlyphs" text-anchor="start" stroke="#111" stroke-width=".28" stroke-linejoin="round">30-40 cm</text>
<text x="42.2" y="345.9" font-size="6.9" textLength="26.4" lengthAdjust="spacingAndGlyphs" text-anchor="start" stroke="#111" stroke-width=".28" stroke-linejoin="round">0-10 cm</text>
<text x="42.2" y="405.3" font-size="6.9" textLength="30.2" lengthAdjust="spacingAndGlyphs" text-anchor="start" stroke="#111" stroke-width=".28" stroke-linejoin="round">10-20 cm</text>
<text x="42.2" y="464.9" font-size="6.9" textLength="30.2" lengthAdjust="spacingAndGlyphs" text-anchor="start" stroke="#111" stroke-width=".28" stroke-linejoin="round">20-30 cm</text>
<text x="42.2" y="524.9" font-size="6.9" textLength="30.2" lengthAdjust="spacingAndGlyphs" text-anchor="start" stroke="#111" stroke-width=".28" stroke-linejoin="round">30-40 cm</text>
<text x="158.2" y="345.9" font-size="6.9" textLength="26.4" lengthAdjust="spacingAndGlyphs" text-anchor="start" stroke="#111" stroke-width=".28" stroke-linejoin="round">0-10 cm</text>
<text x="158.2" y="405.3" font-size="6.9" textLength="30.2" lengthAdjust="spacingAndGlyphs" text-anchor="start" stroke="#111" stroke-width=".28" stroke-linejoin="round">10-20 cm</text>
<text x="158.2" y="464.9" font-size="6.9" textLength="30.2" lengthAdjust="spacingAndGlyphs" text-anchor="start" stroke="#111" stroke-width=".28" stroke-linejoin="round">20-30 cm</text>
<text x="158.2" y="524.9" font-size="6.9" textLength="30.2" lengthAdjust="spacingAndGlyphs" text-anchor="start" stroke="#111" stroke-width=".28" stroke-linejoin="round">30-40 cm</text>
<text x="283.2" y="345.9" font-size="6.9" textLength="26.4" lengthAdjust="spacingAndGlyphs" text-anchor="start" stroke="#111" stroke-width=".28" stroke-linejoin="round">0-10 cm</text>
<text x="283.2" y="405.5" font-size="6.9" textLength="30.2" lengthAdjust="spacingAndGlyphs" text-anchor="start" stroke="#111" stroke-width=".28" stroke-linejoin="round">10-20 cm</text>
<text x="283.2" y="465.3" font-size="6.9" textLength="30.2" lengthAdjust="spacingAndGlyphs" text-anchor="start" stroke="#111" stroke-width=".28" stroke-linejoin="round">20-30 cm</text>
<text x="283.2" y="525.1" font-size="6.9" textLength="30.2" lengthAdjust="spacingAndGlyphs" text-anchor="start" stroke="#111" stroke-width=".28" stroke-linejoin="round">30-40 cm</text>
<text x="399.2" y="345.9" font-size="6.9" textLength="26.4" lengthAdjust="spacingAndGlyphs" text-anchor="start" stroke="#111" stroke-width=".28" stroke-linejoin="round">0-10 cm</text>
<text x="399.2" y="405.5" font-size="6.9" textLength="30.2" lengthAdjust="spacingAndGlyphs" text-anchor="start" stroke="#111" stroke-width=".28" stroke-linejoin="round">10-20 cm</text>
<text x="399.2" y="465.3" font-size="6.9" textLength="30.2" lengthAdjust="spacingAndGlyphs" text-anchor="start" stroke="#111" stroke-width=".28" stroke-linejoin="round">20-30 cm</text>
<text x="399.2" y="525.1" font-size="6.9" textLength="30.2" lengthAdjust="spacingAndGlyphs" text-anchor="start" stroke="#111" stroke-width=".28" stroke-linejoin="round">30-40 cm</text>
<text x="121" y="267.2" font-size="13.6" text-anchor="middle" stroke="#111" stroke-width=".28" stroke-linejoin="round">(a)</text>
<text x="358.7" y="267.2" font-size="13.6" text-anchor="middle" stroke="#111" stroke-width=".28" stroke-linejoin="round">(b)</text>
<text x="119.3" y="543" font-size="13.6" text-anchor="middle" stroke="#111" stroke-width=".28" stroke-linejoin="round">(c)</text>
<text x="357.5" y="543" font-size="13.6" text-anchor="middle" stroke="#111" stroke-width=".28" stroke-linejoin="round">(d)</text>
<text x="84" y="222.5" font-size="5.9" textLength="29.4" lengthAdjust="spacingAndGlyphs" text-anchor="start" stroke="#111" stroke-width=".28" stroke-linejoin="round">P (mg kg<tspan font-size="3.5" dy="-2.1">-1</tspan><tspan dy="2.1">)</tspan></text>
<rect x="80.4" y="227.3" width="11.6" height="5.7" fill="#FFAA00" stroke="#000" stroke-opacity=".3" stroke-width=".5"/>
<text x="94" y="232.5" font-size="5.6" textLength="21" lengthAdjust="spacingAndGlyphs" text-anchor="start" stroke="#111" stroke-width=".28" stroke-linejoin="round">1.48-2.0</text>
<rect x="80.4" y="235.7" width="11.6" height="5.7" fill="#BD7406" stroke="#000" stroke-opacity=".3" stroke-width=".5"/>
<text x="94" y="240.9" font-size="5.6" textLength="17.5" lengthAdjust="spacingAndGlyphs" text-anchor="start" stroke="#111" stroke-width=".28" stroke-linejoin="round">2.0-2.5</text>
<rect x="80.4" y="244.1" width="11.6" height="5.7" fill="#C8400F" stroke="#000" stroke-opacity=".3" stroke-width=".5"/>
<text x="94" y="249.3" font-size="5.6" textLength="21" lengthAdjust="spacingAndGlyphs" text-anchor="start" stroke="#111" stroke-width=".28" stroke-linejoin="round">2.5-2.88</text>
<text x="200" y="214.5" font-size="5.9" textLength="30" lengthAdjust="spacingAndGlyphs" text-anchor="start" stroke="#111" stroke-width=".28" stroke-linejoin="round">P (mg kg<tspan font-size="3.5" dy="-2.1">-1</tspan><tspan dy="2.1">)</tspan></text>
<rect x="197.1" y="219.1" width="11" height="5.7" fill="#087808" stroke="#000" stroke-opacity=".3" stroke-width=".5"/>
<text x="210" y="224.3" font-size="5.6" textLength="24.6" lengthAdjust="spacingAndGlyphs" text-anchor="start" stroke="#111" stroke-width=".28" stroke-linejoin="round">9.70-20.0</text>
<rect x="197.1" y="227.37" width="11" height="5.7" fill="#0E65F2" stroke="#000" stroke-opacity=".3" stroke-width=".5"/>
<text x="210" y="232.57" font-size="5.6" textLength="24.6" lengthAdjust="spacingAndGlyphs" text-anchor="start" stroke="#111" stroke-width=".28" stroke-linejoin="round">20.0-30.0</text>
<rect x="197.1" y="235.64" width="11" height="5.7" fill="#084E7A" stroke="#000" stroke-opacity=".3" stroke-width=".5"/>
<text x="210" y="240.84" font-size="5.6" textLength="24.6" lengthAdjust="spacingAndGlyphs" text-anchor="start" stroke="#111" stroke-width=".28" stroke-linejoin="round">30.0-40.0</text>
<rect x="197.1" y="243.91" width="11" height="5.7" fill="#07207A" stroke="#000" stroke-opacity=".3" stroke-width=".5"/>
<text x="210" y="249.11" font-size="5.6" textLength="27.8" lengthAdjust="spacingAndGlyphs" text-anchor="start" stroke="#111" stroke-width=".28" stroke-linejoin="round">40.0-47.70</text>
<text x="330.7" y="206.5" font-size="5.9" textLength="19.5" lengthAdjust="spacingAndGlyphs" text-anchor="start" stroke="#111" stroke-width=".28" stroke-linejoin="round">Soil pH</text>
<rect x="322.7" y="211.4" width="11.3" height="5.4" fill="#FFAA00" stroke="#000" stroke-opacity=".3" stroke-width=".5"/>
<text x="335.8" y="216.45" font-size="5.6" textLength="24" lengthAdjust="spacingAndGlyphs" text-anchor="start" stroke="#111" stroke-width=".28" stroke-linejoin="round">8.05-8.10</text>
<rect x="322.7" y="219.75" width="11.3" height="5.4" fill="#BD7406" stroke="#000" stroke-opacity=".3" stroke-width=".5"/>
<text x="335.8" y="224.8" font-size="5.6" textLength="24" lengthAdjust="spacingAndGlyphs" text-anchor="start" stroke="#111" stroke-width=".28" stroke-linejoin="round">8.10-8.15</text>
<rect x="322.7" y="228.1" width="11.3" height="5.4" fill="#FF5505" stroke="#000" stroke-opacity=".3" stroke-width=".5"/>
<text x="335.8" y="233.15" font-size="5.6" textLength="24" lengthAdjust="spacingAndGlyphs" text-anchor="start" stroke="#111" stroke-width=".28" stroke-linejoin="round">8.15-8.20</text>
<rect x="322.7" y="236.45" width="11.3" height="5.4" fill="#E00B0B" stroke="#000" stroke-opacity=".3" stroke-width=".5"/>
<text x="335.8" y="241.5" font-size="5.6" textLength="24" lengthAdjust="spacingAndGlyphs" text-anchor="start" stroke="#111" stroke-width=".28" stroke-linejoin="round">8.20-8.25</text>
<rect x="322.7" y="244.8" width="11.3" height="5.4" fill="#C8400F" stroke="#000" stroke-opacity=".3" stroke-width=".5"/>
<text x="335.8" y="249.85" font-size="5.6" textLength="24" lengthAdjust="spacingAndGlyphs" text-anchor="start" stroke="#111" stroke-width=".28" stroke-linejoin="round">8.25-8.29</text>
<text x="447.2" y="206.6" font-size="5.9" textLength="20.1" lengthAdjust="spacingAndGlyphs" text-anchor="start" stroke="#111" stroke-width=".28" stroke-linejoin="round">Soil pH</text>
<rect x="439.2" y="211.3" width="11.2" height="5.4" fill="#820A0A" stroke="#000" stroke-opacity=".3" stroke-width=".5"/>
<text x="452.2" y="216.35" font-size="5.6" textLength="24.4" lengthAdjust="spacingAndGlyphs" text-anchor="start" stroke="#111" stroke-width=".28" stroke-linejoin="round">7.72-7.80</text>
<rect x="439.2" y="219.65" width="11.2" height="5.4" fill="#087808" stroke="#000" stroke-opacity=".3" stroke-width=".5"/>
<text x="452.2" y="224.7" font-size="5.6" textLength="24.4" lengthAdjust="spacingAndGlyphs" text-anchor="start" stroke="#111" stroke-width=".28" stroke-linejoin="round">7.80-8.00</text>
<rect x="439.2" y="228" width="11.2" height="5.4" fill="#0E65F2" stroke="#000" stroke-opacity=".3" stroke-width=".5"/>
<text x="452.2" y="233.05" font-size="5.6" textLength="24.4" lengthAdjust="spacingAndGlyphs" text-anchor="start" stroke="#111" stroke-width=".28" stroke-linejoin="round">8.00-8.20</text>
<rect x="439.2" y="236.35" width="11.2" height="5.4" fill="#084E7A" stroke="#000" stroke-opacity=".3" stroke-width=".5"/>
<text x="452.2" y="241.4" font-size="5.6" textLength="24.4" lengthAdjust="spacingAndGlyphs" text-anchor="start" stroke="#111" stroke-width=".28" stroke-linejoin="round">8.20-8.40</text>
<rect x="439.2" y="244.7" width="11.2" height="5.4" fill="#07207A" stroke="#000" stroke-opacity=".3" stroke-width=".5"/>
<text x="452.2" y="249.75" font-size="5.6" textLength="24.4" lengthAdjust="spacingAndGlyphs" text-anchor="start" stroke="#111" stroke-width=".28" stroke-linejoin="round">8.40-8.57</text>
<text x="83.6" y="475.1" font-size="5.9" textLength="29.5" lengthAdjust="spacingAndGlyphs" text-anchor="start" stroke="#111" stroke-width=".28" stroke-linejoin="round">EC (ds m<tspan font-size="3.5" dy="-2.1">-1</tspan><tspan dy="2.1">)</tspan></text>
<rect x="80.1" y="479.4" width="11.3" height="5.4" fill="#FFAA00" stroke="#000" stroke-opacity=".3" stroke-width=".5"/>
<text x="93.6" y="484.45" font-size="5.6" textLength="18" lengthAdjust="spacingAndGlyphs" text-anchor="start" stroke="#111" stroke-width=".28" stroke-linejoin="round">1.0-2.0</text>
<rect x="80.1" y="487.75" width="11.3" height="5.4" fill="#BD7406" stroke="#000" stroke-opacity=".3" stroke-width=".5"/>
<text x="93.6" y="492.8" font-size="5.6" textLength="18" lengthAdjust="spacingAndGlyphs" text-anchor="start" stroke="#111" stroke-width=".28" stroke-linejoin="round">2.0-4.0</text>
<rect x="80.1" y="496.1" width="11.3" height="5.4" fill="#FF5505" stroke="#000" stroke-opacity=".3" stroke-width=".5"/>
<text x="93.6" y="501.15" font-size="5.6" textLength="18" lengthAdjust="spacingAndGlyphs" text-anchor="start" stroke="#111" stroke-width=".28" stroke-linejoin="round">4.0-6.0</text>
<rect x="80.1" y="504.45" width="11.3" height="5.4" fill="#E00B0B" stroke="#000" stroke-opacity=".3" stroke-width=".5"/>
<text x="93.6" y="509.5" font-size="5.6" textLength="18" lengthAdjust="spacingAndGlyphs" text-anchor="start" stroke="#111" stroke-width=".28" stroke-linejoin="round">6.0-8.0</text>
<rect x="80.1" y="512.8" width="11.3" height="5.4" fill="#C8400F" stroke="#000" stroke-opacity=".3" stroke-width=".5"/>
<text x="93.6" y="517.85" font-size="5.6" textLength="21.2" lengthAdjust="spacingAndGlyphs" text-anchor="start" stroke="#111" stroke-width=".28" stroke-linejoin="round">8.0-10.0</text>
<rect x="80.1" y="521.15" width="11.3" height="5.4" fill="#85100F" stroke="#000" stroke-opacity=".3" stroke-width=".5"/>
<text x="93.6" y="526.2" font-size="5.6" textLength="24" lengthAdjust="spacingAndGlyphs" text-anchor="start" stroke="#111" stroke-width=".28" stroke-linejoin="round">10.0-10.3</text>
<text x="199.9" y="483.3" font-size="5.9" textLength="29.5" lengthAdjust="spacingAndGlyphs" text-anchor="start" stroke="#111" stroke-width=".28" stroke-linejoin="round">EC (ds m<tspan font-size="3.5" dy="-2.1">-1</tspan><tspan dy="2.1">)</tspan></text>
<rect x="196.7" y="487.7" width="11.1" height="5.4" fill="#19C81E" stroke="#000" stroke-opacity=".3" stroke-width=".5"/>
<text x="210" y="492.75" font-size="5.6" textLength="18" lengthAdjust="spacingAndGlyphs" text-anchor="start" stroke="#111" stroke-width=".28" stroke-linejoin="round">0.5-1.0</text>
<rect x="196.7" y="496.05" width="11.1" height="5.4" fill="#087808" stroke="#000" stroke-opacity=".3" stroke-width=".5"/>
<text x="210" y="501.1" font-size="5.6" textLength="18" lengthAdjust="spacingAndGlyphs" text-anchor="start" stroke="#111" stroke-width=".28" stroke-linejoin="round">1.0-1.5</text>
<rect x="196.7" y="504.4" width="11.1" height="5.4" fill="#0E65F2" stroke="#000" stroke-opacity=".3" stroke-width=".5"/>
<text x="210" y="509.45" font-size="5.6" textLength="18" lengthAdjust="spacingAndGlyphs" text-anchor="start" stroke="#111" stroke-width=".28" stroke-linejoin="round">1.5-2.0</text>
<rect x="196.7" y="512.75" width="11.1" height="5.4" fill="#084E7A" stroke="#000" stroke-opacity=".3" stroke-width=".5"/>
<text x="210" y="517.8" font-size="5.6" textLength="18" lengthAdjust="spacingAndGlyphs" text-anchor="start" stroke="#111" stroke-width=".28" stroke-linejoin="round">2.0-2.5</text>
<rect x="196.7" y="521.1" width="11.1" height="5.4" fill="#07207A" stroke="#000" stroke-opacity=".3" stroke-width=".5"/>
<text x="210" y="526.15" font-size="5.6" textLength="18" lengthAdjust="spacingAndGlyphs" text-anchor="start" stroke="#111" stroke-width=".28" stroke-linejoin="round">2.5-3.0</text>
<text x="317.3" y="475.2" font-size="5.9" textLength="43.9" lengthAdjust="spacingAndGlyphs" text-anchor="start" stroke="#111" stroke-width=".28" stroke-linejoin="round">CaCO<tspan font-size="4" dy="1.1">3</tspan><tspan dy="-1.1"> </tspan>(mg kg<tspan font-size="3.5" dy="-2.1">-1</tspan><tspan dy="2.1">)</tspan></text>
<rect x="321.3" y="479.8" width="11.4" height="5.4" fill="#FFAA00" stroke="#000" stroke-opacity=".3" stroke-width=".5"/>
<text x="335" y="484.85" font-size="5.6" textLength="13.2" lengthAdjust="spacingAndGlyphs" text-anchor="start" stroke="#111" stroke-width=".28" stroke-linejoin="round">90-95</text>
<rect x="321.3" y="488.15" width="11.4" height="5.4" fill="#BD7406" stroke="#000" stroke-opacity=".3" stroke-width=".5"/>
<text x="335" y="493.2" font-size="5.6" textLength="16" lengthAdjust="spacingAndGlyphs" text-anchor="start" stroke="#111" stroke-width=".28" stroke-linejoin="round">95-100</text>
<rect x="321.3" y="496.5" width="11.4" height="5.4" fill="#FF5505" stroke="#000" stroke-opacity=".3" stroke-width=".5"/>
<text x="335" y="501.55" font-size="5.6" textLength="19" lengthAdjust="spacingAndGlyphs" text-anchor="start" stroke="#111" stroke-width=".28" stroke-linejoin="round">100-105</text>
<rect x="321.3" y="504.85" width="11.4" height="5.4" fill="#E00B0B" stroke="#000" stroke-opacity=".3" stroke-width=".5"/>
<text x="335" y="509.9" font-size="5.6" textLength="19" lengthAdjust="spacingAndGlyphs" text-anchor="start" stroke="#111" stroke-width=".28" stroke-linejoin="round">105-110</text>
<rect x="321.3" y="513.2" width="11.4" height="5.4" fill="#C8400F" stroke="#000" stroke-opacity=".3" stroke-width=".5"/>
<text x="335" y="518.25" font-size="5.6" textLength="19" lengthAdjust="spacingAndGlyphs" text-anchor="start" stroke="#111" stroke-width=".28" stroke-linejoin="round">110-115</text>
<rect x="321.3" y="521.55" width="11.4" height="5.4" fill="#85100F" stroke="#000" stroke-opacity=".3" stroke-width=".5"/>
<text x="335" y="526.6" font-size="5.6" textLength="19" lengthAdjust="spacingAndGlyphs" text-anchor="start" stroke="#111" stroke-width=".28" stroke-linejoin="round">115-120</text>
<text x="433.7" y="492" font-size="5.9" textLength="43.7" lengthAdjust="spacingAndGlyphs" text-anchor="start" stroke="#111" stroke-width=".28" stroke-linejoin="round">CaCO<tspan font-size="4" dy="1.1">3</tspan><tspan dy="-1.1"> </tspan>(mg kg<tspan font-size="3.5" dy="-2.1">-1</tspan><tspan dy="2.1">)</tspan></text>
<rect x="437.9" y="496.2" width="11.4" height="5.4" fill="#0E65F2" stroke="#000" stroke-opacity=".3" stroke-width=".5"/>
<text x="451.9" y="501.25" font-size="5.6" textLength="13.2" lengthAdjust="spacingAndGlyphs" text-anchor="start" stroke="#111" stroke-width=".28" stroke-linejoin="round">76-80</text>
<rect x="437.9" y="504.55" width="11.4" height="5.4" fill="#14A88C" stroke="#000" stroke-opacity=".3" stroke-width=".5"/>
<text x="451.9" y="509.6" font-size="5.6" textLength="13.2" lengthAdjust="spacingAndGlyphs" text-anchor="start" stroke="#111" stroke-width=".28" stroke-linejoin="round">80-85</text>
<rect x="437.9" y="512.9" width="11.4" height="5.4" fill="#087808" stroke="#000" stroke-opacity=".3" stroke-width=".5"/>
<text x="451.9" y="517.95" font-size="5.6" textLength="13.2" lengthAdjust="spacingAndGlyphs" text-anchor="start" stroke="#111" stroke-width=".28" stroke-linejoin="round">85-90</text>
<rect x="437.9" y="521.25" width="11.4" height="5.4" fill="#FFAA00" stroke="#000" stroke-opacity=".3" stroke-width=".5"/>
<text x="451.9" y="526.3" font-size="5.6" textLength="13.2" lengthAdjust="spacingAndGlyphs" text-anchor="start" stroke="#111" stroke-width=".28" stroke-linejoin="round">90-95</text>
<text x="206" y="17.6" font-size="5" text-anchor="middle" fill="#222" stroke="#222" stroke-width=".15">N</text>
<path d="M206 19.5L202.2 30.5L206 27.2Z" fill="#111"/>
<path d="M206 19.5L209.8 30.5L206 27.2Z" fill="#fff" stroke="#333" stroke-width=".45"/>
<text x="448" y="18.1" font-size="5" text-anchor="middle" fill="#222" stroke="#222" stroke-width=".15">N</text>
<path d="M448 20L444.2 31L448 27.7Z" fill="#111"/>
<path d="M448 20L451.8 31L448 27.7Z" fill="#fff" stroke="#333" stroke-width=".45"/>
<text x="205.7" y="294.2" font-size="5" text-anchor="middle" fill="#222" stroke="#222" stroke-width=".15">N</text>
<path d="M205.7 296.1L201.9 307.6L205.7 304.15Z" fill="#111"/>
<path d="M205.7 296.1L209.5 307.6L205.7 304.15Z" fill="#fff" stroke="#333" stroke-width=".45"/>
<text x="447" y="294.6" font-size="5" text-anchor="middle" fill="#222" stroke="#222" stroke-width=".15">N</text>
<path d="M447 296.5L443.2 307.6L447 304.27Z" fill="#111"/>
<path d="M447 296.5L450.8 307.6L447 304.27Z" fill="#fff" stroke="#333" stroke-width=".45"/>
</svg>
</body></html>
